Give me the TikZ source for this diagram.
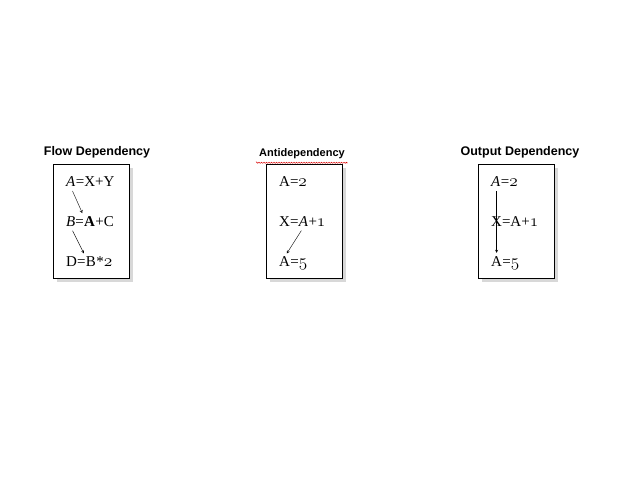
\documentclass[tikz,border=0pt]{standalone}
\usepackage{fontspec}
\setmainfont{Liberation Serif}
\newfontfamily\headfont{Liberation Sans}
\usetikzlibrary{shadows,decorations.pathmorphing}
\newcommand\osnum[1]{{\usefont{OML}{cmm}{m}{it}\fontsize{17}{18}\selectfont#1}}

\begin{document}
\begin{tikzpicture}
            [>=stealth, shorten >=4pt, shorten <=4pt, thin, x=1pt, y=-1pt,
             box/.style={draw=black, fill=white, minimum width=76pt, minimum height=114pt, inner sep=0pt,
                         drop shadow={shadow xshift=4pt, shadow yshift=-4pt, fill=gray!60, opacity=.5}},
             code/.style={inner sep=0pt, anchor=base west, font=\fontsize{15}{18}\selectfont},
             head/.style={anchor=base, font=\headfont\bfseries\fontsize{12.5}{15}\selectfont}]
            \useasboundingbox (0, 0) rectangle (638, 478);

            \node[head] (flowtitle) at (97, 156) {Flow Dependency};
            \node[head, font=\headfont\bfseries\fontsize{11}{13}\selectfont] (antititle) at (302, 157) {Antidependency};
            \node[head] (outtitle) at (520, 156) {Output Dependency};
            \draw[red!85!black, decorate, decoration={snake, amplitude=.6pt, segment length=2.5pt}]
                (antititle.south west) -- (antititle.south east);

            \node[box] (flowbox) at (91, 221) {};
            \node[box] (antibox) at (304, 221) {};
            \node[box] (outbox) at (516, 221) {};

            \node[code] (f1a) at (66, 187) {\textit{A}};
            \node[code] (f1b) at (f1a.base east) {=X+Y};
            \node[code] (f2a) at (66, 227) {\textit{B}=};
            \node[code] (f2b) at (f2a.base east) {\textbf{A}};
            \node[code] (f2c) at (f2b.base east) {+C};
            \node[code] (f3a) at (66, 267) {D=};
            \node[code] (f3b) at (f3a.base east) {B};
            \node[code] (f3c) at (f3b.base east) {*\osnum{2}};

            \node[code] (a1) at (279, 187) {A=\osnum{2}};
            \node[code] (a2a) at (279, 227) {X=};
            \node[code] (a2b) at (a2a.base east) {\textit{A}};
            \node[code] (a2c) at (a2b.base east) {+\osnum{1}};
            \node[code] (a3a) at (279, 267) {A};
            \node[code] (a3b) at (a3a.base east) {=\osnum{5}};

            \node[code] (o1a) at (491, 187) {\textit{A}};
            \node[code] (o1b) at (o1a.base east) {=\osnum{2}};
            \node[code] (o2) at (491, 227) {X=A+\osnum{1}};
            \node[code] (o3a) at (491, 267) {A};
            \node[code] (o3b) at (o3a.base east) {=\osnum{5}};

            \path [->] (f1a.south) edge (f2b.north west);
            \path [->] (f2a.south west -| f1a.south) edge (f3b.north west);
            \path [->] (a2b.south) edge (a3a.north);
            \path [->] (o1a.south -| o3a.north) edge (o3a.north);
        \end{tikzpicture}
\end{document}
